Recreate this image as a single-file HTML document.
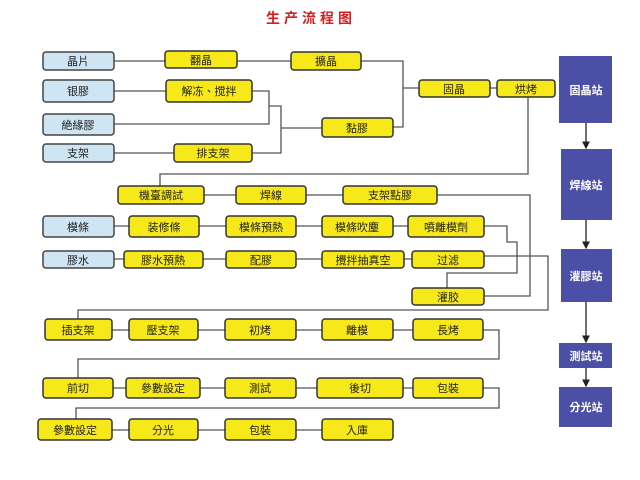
<!DOCTYPE html>
<html><head><meta charset="utf-8"><style>
html,body{margin:0;padding:0;background:#fff;width:640px;height:480px;overflow:hidden}
text{font-family:"Liberation Sans","Noto Sans CJK TC","Noto Sans CJK SC",sans-serif;}
</style></head><body>
<svg width="640" height="480" viewBox="0 0 640 480" xmlns="http://www.w3.org/2000/svg">
<defs><marker id="a" markerWidth="6" markerHeight="6" refX="5" refY="3" orient="auto"><path d="M0,0 L6,3 L0,6z" fill="#222"/></marker></defs>
<text x="311" y="23" font-size="14" font-weight="bold" fill="#d42020" text-anchor="middle" letter-spacing="4">生产流程图</text>
<g stroke="#555" stroke-width="1.3" fill="none">
<path d="M114 61H165M237 61H291M361 61H403V127H393M403 88H419M490 88H497"/>
<path d="M114 91H166M252 91H269V124H114M269 106H281V153H252M114 153H174M281 128H322"/>
<path d="M528 97V174H160V186"/>
<path d="M204 195H236M306 195H343M437 195H530V296H484"/>
<path d="M114 226H129M199 226H226M296 226H322M393 226H408M484 226H507V242H517V273H447V288"/>
<path d="M114 259H124M203 259H226M296 259H322M404 259H412M484 256H548V310H78V319"/>
<path d="M112 330H129M198 330H225M296 330H322M393 330H413M483 330H499V359H78V378"/>
<path d="M113 388H126M200 388H225M296 388H317M403 388H413M483 388H499V408H76V419"/>
<path d="M112 430H129M198 430H225M296 430H322"/>
</g>
<g stroke="#222" stroke-width="1.3" marker-end="url(#a)">
<path d="M586 123V148"/><path d="M586 220V248"/><path d="M586 302V342"/><path d="M586 368V386"/>
</g>
<g stroke="#444" stroke-width="1.5" fill="#cfe5f3">
<rect x="43" y="52" width="71" height="18" rx="3"/>
<rect x="43" y="80" width="71" height="22" rx="3"/>
<rect x="43" y="114" width="71" height="21" rx="3"/>
<rect x="43" y="144" width="71" height="18" rx="3"/>
<rect x="43" y="216" width="71" height="21" rx="3"/>
<rect x="43" y="251" width="71" height="17" rx="3"/>
</g>
<g stroke="#333" stroke-width="1.5" fill="#f7e81a">
<rect x="165" y="51" width="72" height="17" rx="3"/>
<rect x="291" y="52" width="70" height="18" rx="3"/>
<rect x="166" y="80" width="86" height="22" rx="3"/>
<rect x="322" y="118" width="71" height="19" rx="3"/>
<rect x="174" y="144" width="78" height="18" rx="3"/>
<rect x="419" y="80" width="71" height="17" rx="3"/>
<rect x="497" y="80" width="58" height="17" rx="3"/>
<rect x="118" y="186" width="86" height="18" rx="3"/>
<rect x="236" y="186" width="70" height="18" rx="3"/>
<rect x="343" y="186" width="94" height="18" rx="3"/>
<rect x="129" y="216" width="70" height="21" rx="3"/>
<rect x="226" y="216" width="70" height="21" rx="3"/>
<rect x="322" y="216" width="71" height="21" rx="3"/>
<rect x="408" y="216" width="76" height="21" rx="3"/>
<rect x="124" y="251" width="79" height="17" rx="3"/>
<rect x="226" y="251" width="70" height="17" rx="3"/>
<rect x="322" y="251" width="82" height="17" rx="3"/>
<rect x="412" y="251" width="72" height="17" rx="3"/>
<rect x="412" y="288" width="72" height="17" rx="3"/>
<rect x="45" y="319" width="67" height="21" rx="3"/>
<rect x="129" y="319" width="69" height="21" rx="3"/>
<rect x="225" y="319" width="71" height="21" rx="3"/>
<rect x="322" y="319" width="71" height="21" rx="3"/>
<rect x="413" y="319" width="70" height="21" rx="3"/>
<rect x="43" y="378" width="70" height="20" rx="3"/>
<rect x="126" y="378" width="74" height="20" rx="3"/>
<rect x="225" y="378" width="71" height="20" rx="3"/>
<rect x="317" y="378" width="86" height="20" rx="3"/>
<rect x="413" y="378" width="70" height="20" rx="3"/>
<rect x="38" y="419" width="74" height="21" rx="3"/>
<rect x="129" y="419" width="69" height="21" rx="3"/>
<rect x="225" y="419" width="71" height="21" rx="3"/>
<rect x="322" y="419" width="71" height="21" rx="3"/>
</g>
<g fill="#4b4fa6">
<rect x="559" y="56" width="53" height="67"/>
<rect x="561" y="149" width="51" height="71"/>
<rect x="561" y="249" width="51" height="53"/>
<rect x="559" y="343" width="53" height="25"/>
<rect x="559" y="387" width="53" height="40"/>
</g>
<g font-size="11" fill="#fff" font-weight="bold" text-anchor="middle">
<text x="586" y="94">固晶站</text><text x="586" y="189">焊線站</text><text x="586" y="280">灌膠站</text><text x="586" y="360">測試站</text><text x="586" y="411">分光站</text>
</g>
<g font-size="11" fill="#222" text-anchor="middle">
<text x="78" y="65">晶片</text><text x="78" y="95">银膠</text><text x="78" y="129">絶緣膠</text><text x="78" y="157">支架</text>
<text x="78" y="231">模條</text><text x="78" y="264">膠水</text>
<text x="201" y="64">翻晶</text><text x="326" y="65">擴晶</text><text x="209" y="95">解冻、搅拌</text><text x="357" y="132">黏膠</text><text x="213" y="157">排支架</text>
<text x="454" y="93">固晶</text><text x="526" y="93">烘烤</text>
<text x="161" y="199">機臺調試</text><text x="271" y="199">焊線</text><text x="390" y="199">支架點膠</text>
<text x="164" y="231">装修條</text><text x="261" y="231">模條預熱</text><text x="357" y="231">模條吹塵</text><text x="446" y="231">噴離模劑</text>
<text x="163" y="264">膠水預熱</text><text x="261" y="264">配膠</text><text x="363" y="264">攪拌抽真空</text><text x="448" y="264">过滤</text>
<text x="448" y="301">灌胶</text>
<text x="78" y="334">插支架</text><text x="163" y="334">壓支架</text><text x="260" y="334">初烤</text><text x="357" y="334">離模</text><text x="448" y="334">長烤</text>
<text x="78" y="392">前切</text><text x="163" y="392">參數設定</text><text x="260" y="392">測試</text><text x="360" y="392">後切</text><text x="448" y="392">包裝</text>
<text x="75" y="434">參數設定</text><text x="163" y="434">分光</text><text x="260" y="434">包裝</text><text x="357" y="434">入庫</text>
</g>
</svg>
</body></html>
